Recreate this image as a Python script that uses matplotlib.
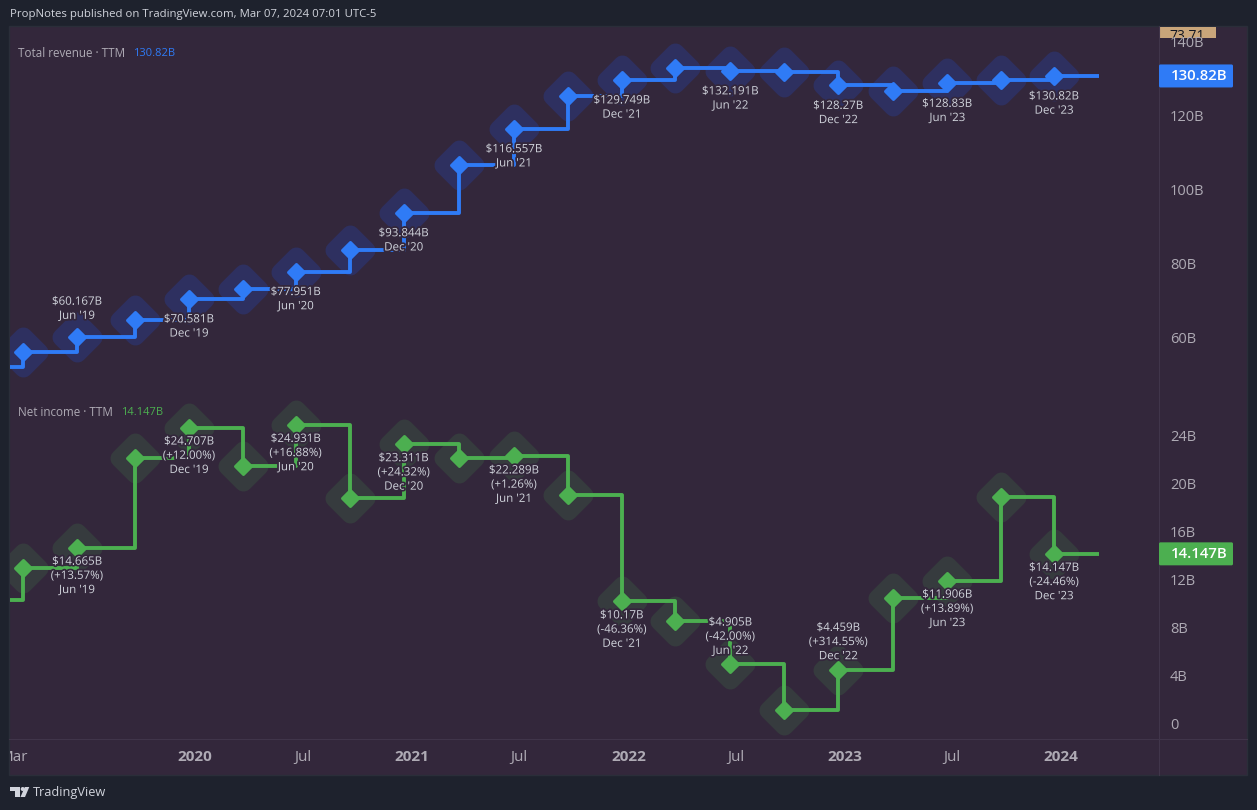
#!/usr/bin/env python
"""TradingView style fundamentals chart: total revenue and net income, TTM."""

import matplotlib
matplotlib.use("Agg")
import matplotlib.patheffects as pe
import matplotlib.pyplot as plt
import pandas as pd
from matplotlib.patches import Circle, FancyBboxPatch, Polygon, Rectangle

plt.rcParams["font.family"] = ["Open Sans", "DejaVu Sans"]

W, H = 1257, 810
PANE_L, PANE_R, PANE_T, PANE_B = 10, 1159, 27, 739

BG = "#1e222d"
PANE = "#33273b"
GRID = "#40354a"
TEXT = "#d1d4dc"
AXIS_TEXT = "#aeaab4"
BLUE = "#2f7bf6"
GREEN = "#4caf50"
BLUE_HALO = "#2e3060"
GREEN_HALO = "#363b3e"

# first entry sits left of the visible range, last one is just where the line stops
report_dates = pd.to_datetime([
    "2018-12-20", "2019-03-17", "2019-06-16", "2019-09-22", "2019-12-22",
    "2020-03-22", "2020-06-19", "2020-09-19", "2020-12-18", "2021-03-21",
    "2021-06-22", "2021-09-21", "2021-12-21", "2022-03-21", "2022-06-22",
    "2022-09-21", "2022-12-21", "2023-03-24", "2023-06-23", "2023-09-22",
    "2023-12-20", "2024-03-05",
])

revenue = [52.2, 56.2, 60.167, 64.9, 70.581, 73.2, 77.951, 83.8, 93.844, 106.8,
           116.557, 125.4, 129.749, 133.0, 132.191, 131.9, 128.27, 126.8, 128.83,
           129.7, 130.82, 130.82]
net_income = [10.28, 12.96, 14.665, 22.15, 24.707, 21.5, 24.931, 18.8, 23.311, 22.15,
              22.289, 19.06, 10.17, 8.5, 4.905, 1.08, 4.459, 10.45, 11.906,
              18.9, 14.147, 14.147]

# index into report_dates, text lines, above the point or not
revenue_labels = [
    (2, ["$60.167B", "Jun '19"], True),
    (4, ["$70.581B", "Dec '19"], False),
    (6, ["$77.951B", "Jun '20"], False),
    (8, ["$93.844B", "Dec '20"], False),
    (10, ["$116.557B", "Jun '21"], False),
    (12, ["$129.749B", "Dec '21"], False),
    (14, ["$132.191B", "Jun '22"], False),
    (16, ["$128.27B", "Dec '22"], False),
    (18, ["$128.83B", "Jun '23"], False),
    (20, ["$130.82B", "Dec '23"], False),
]
net_labels = [
    (2, ["$14.665B", "(+13.57%)", "Jun '19"], False),
    (4, ["$24.707B", "(+12.00%)", "Dec '19"], False),
    (6, ["$24.931B", "(+16.88%)", "Jun '20"], False),
    (8, ["$23.311B", "(+24.32%)", "Dec '20"], False),
    (10, ["$22.289B", "(+1.26%)", "Jun '21"], False),
    (12, ["$10.17B", "(-46.36%)", "Dec '21"], False),
    (14, ["$4.905B", "(-42.00%)", "Jun '22"], True),
    (16, ["$4.459B", "(+314.55%)", "Dec '22"], True),
    (18, ["$11.906B", "(+13.89%)", "Jun '23"], False),
    (20, ["$14.147B", "(-24.46%)", "Dec '23"], False),
]

revenue_ticks = [60, 80, 100, 120, 140]
net_ticks = [0, 4, 8, 12, 16, 20, 24]
time_ticks = pd.to_datetime(["2019-03-01", "2020-01-01", "2020-07-01", "2021-01-01", "2021-07-01",
                             "2022-01-01", "2022-07-01", "2023-01-01", "2023-07-01", "2024-01-01"])
time_tick_labels = ["Mar", "2020", "Jul", "2021", "Jul", "2022", "Jul", "2023", "Jul", "2024"]


def px_axes(zorder):
    """Full-figure axes in image pixels, y going down."""
    a = fig.add_axes([0, 0, 1, 1], zorder=zorder)
    a.set_xlim(0, W)
    a.set_ylim(H, 0)
    a.axis("off")
    return a


def plot_series(ax, values, color, halo, labels, gap, gap_above):
    xs, ys = report_dates[1:-1], values[1:-1]
    # scatter, since a collection keeps the round join on the diamonds
    ax.scatter(xs, ys, marker="D", s=16.3 ** 2, facecolor=halo, edgecolor=halo,
               linewidths=13, joinstyle="round", zorder=2)
    ax.step(report_dates, values, where="post", color=color, lw=2.8,
            solid_joinstyle="round", solid_capstyle="butt", zorder=3)
    ax.scatter(xs, ys, marker="D", s=8.1 ** 2, facecolor=color, edgecolor=color,
               linewidths=2.2, joinstyle="round", zorder=4)

    halo_fx = [pe.withStroke(linewidth=2.6, foreground=PANE)]
    for idx, lines, above in labels:
        first = -(gap_above + 14.2 * (len(lines) - 1)) if above else gap
        for n, line in enumerate(lines):
            ax.annotate(line, (report_dates[idx], values[idx]),
                        xytext=(0, -(first + 14.2 * n)), textcoords="offset pixels",
                        ha="center", va="center", fontsize=8.3, color=TEXT,
                        path_effects=halo_fx, zorder=5)


def value_axes(ylim, ticks):
    a = fig.add_axes([PANE_L / W, 1 - PANE_B / H, (PANE_R - PANE_L) / W, (PANE_B - PANE_T) / H])
    a.patch.set_alpha(0)
    a.set_xlim(pd.Timestamp("2019-02-23"), pd.Timestamp("2024-06-14"))
    a.set_ylim(*ylim)
    a.yaxis.tick_right()
    a.set_yticks(ticks)
    a.set_yticklabels([f"{t}B" if t else "0" for t in ticks])
    a.tick_params(axis="y", length=0, pad=7.9, labelsize=10.5, labelcolor=AXIS_TEXT)
    a.tick_params(axis="x", length=0)
    for s in a.spines.values():
        s.set_visible(False)
    return a


def value_tag(ax, value, text, color):
    y = H - ax.transData.transform((0, value))[1]
    front.add_patch(FancyBboxPatch((PANE_R, y - 11.5), 74, 23, boxstyle="round,pad=0,rounding_size=1.5",
                                   fc=color, ec="none"))
    front.text(1171, y, text, color="white", fontsize=10.8, fontweight="semibold", va="center", ha="left")


fig = plt.figure(figsize=(W / 100, H / 100), dpi=100, facecolor=BG)
back = px_axes(-1)
front = px_axes(6)

back.add_patch(Rectangle((9, 26), 1238, 749, fc=PANE, ec="#2a2e39", lw=1))
back.plot([PANE_R, PANE_R], [26, 775], color=GRID, lw=0.8)
back.plot([9, 1247], [PANE_B, PANE_B], color=GRID, lw=0.8)

# 3.7 px per billion on top, 11.96 px per billion below
ax_rev = value_axes((-48.38, 144.05), revenue_ticks)
ax_net = value_axes((-1.334, 58.196), net_ticks)

plot_series(ax_rev, revenue, BLUE, BLUE_HALO, revenue_labels, 20, 22)
plot_series(ax_net, net_income, GREEN, GREEN_HALO, net_labels, 13.5, 14)

# time scale lives under the pane
ax_rev.set_xticks(time_ticks)
ax_rev.set_xticklabels(time_tick_labels)
ax_rev.tick_params(axis="x", pad=8, labelsize=11, labelcolor=AXIS_TEXT)
ax_net.set_xticks([])
clip = Rectangle((PANE_L, PANE_B), PANE_R - PANE_L, 36, transform=back.transData)
for lab, txt in zip(ax_rev.get_xticklabels(), time_tick_labels):
    if txt.isdigit():
        lab.set_fontweight("bold")
    lab.set_clip_path(clip)
    lab.set_clip_on(True)

value_tag(ax_rev, revenue[-1], "130.82B", BLUE)
value_tag(ax_net, net_income[-1], "14.147B", GREEN)

# clipped tag in the top corner
back.add_patch(Rectangle((PANE_R, 27), 57, 11, fc="#c9a57a", ec="none", zorder=1))
tag_txt = back.text(1187, 37, "73.71", color="#131722", fontsize=10, ha="center", va="center", zorder=2)
tag_txt.set_clip_path(Rectangle((PANE_R, 27), 57, 11, transform=back.transData))

back.text(18, 53.5, "Total revenue · TTM", color=AXIS_TEXT, fontsize=8.4, va="center")
back.text(133, 53.5, "130.82B", color=BLUE, fontsize=8, va="center")
back.text(18, 412.5, "Net income · TTM", color=AXIS_TEXT, fontsize=8.4, va="center")
back.text(121, 412.5, "14.147B", color=GREEN, fontsize=8, va="center")

back.text(10, 15, "PropNotes published on TradingView.com, Mar 07, 2024 07:01 UTC-5",
          color=TEXT, fontsize=8.2, va="center")

# logo + wordmark
logo = "#d1d4dc"
back.add_patch(Polygon([(10, 787), (20, 787), (20, 797), (15, 797), (15, 791), (10, 791)], fc=logo, ec="none"))
back.add_patch(Circle((22.7, 789), 2, fc=logo, ec="none"))
back.add_patch(Polygon([(29.3, 787), (25, 797), (20.5, 797), (24.8, 787)], fc=logo, ec="none"))
back.text(33, 792.5, "TradingView", color=TEXT, fontsize=9.2, va="center")

fig.savefig("out.png", dpi=100, facecolor=BG)
